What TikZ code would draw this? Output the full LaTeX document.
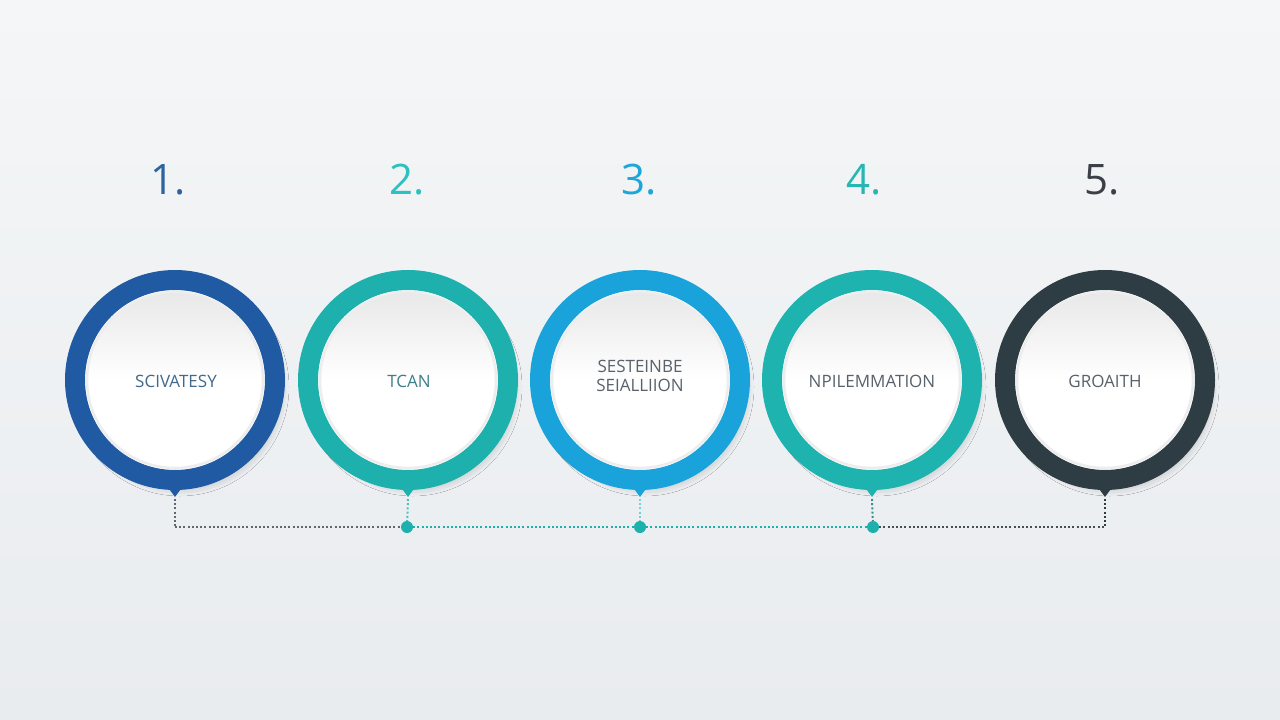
\documentclass[tikz,border=0pt]{standalone}
\usepackage{fontspec}
\setmainfont{Open Sans}
\usetikzlibrary{shadows.blur}
\definecolor{bgA}{HTML}{F4F6F7}
\definecolor{bgB}{HTML}{E9ECEF}
\definecolor{cA}{HTML}{1F5AA3}
\definecolor{cB}{HTML}{1DB0AC}
\definecolor{cC}{HTML}{1AA2DA}
\definecolor{cD}{HTML}{1EB3AE}
\definecolor{cE}{HTML}{2E3D44}
\definecolor{nA}{HTML}{2D64A0}
\definecolor{nB}{HTML}{2CC0C0}
\definecolor{nC}{HTML}{1EA6DA}
\definecolor{nD}{HTML}{26B7B2}
\definecolor{nE}{HTML}{3A4046}
\definecolor{tA}{HTML}{3F6A8E}
\definecolor{tB}{HTML}{3B7F88}
\definecolor{tC}{HTML}{59626B}
\definecolor{lineG}{HTML}{5E6670}
\tikzset{
  ring/.style={circle, minimum size=200pt, inner sep=0pt, draw=#1, line width=20pt, fill=white,
    blur shadow={shadow xshift=5pt, shadow yshift=-7pt, shadow blur radius=9pt, shadow opacity=28}},
  disc/.style={circle, minimum size=176pt, inner sep=0pt, draw=black!7, line width=2.5pt,
    top color=black!9, bottom color=white, middle color=white},
  numlabel/.style={font=\fontsize{42}{42}\selectfont, text=#1},
  intext/.style={font=\fontsize{17}{19}\selectfont, text=#1, align=center},
  dotline/.style={draw=#1, line width=2pt, dash pattern=on 2pt off 2.2pt},
  joint/.style={circle, fill=cB, minimum size=12pt, inner sep=0pt}
}
\begin{document}
\begin{tikzpicture}[x=1pt,y=-1pt]
\shade[top color=bgA, bottom color=bgB] (0,0) rectangle (1280,720);
\useasboundingbox (0,0) rectangle (1280,720);

% numbers
\node[numlabel=nA] (n1) at (168,180) {1.};
\node[numlabel=nB] (n2) at (407,180) {2.};
\node[numlabel=nC] (n3) at (639,180) {3.};
\node[numlabel=nD] (n4) at (864,180) {4.};
\node[numlabel=nE] (n5) at (1102,180) {5.};

% rings
\node[ring=cA] (c1) at (175,380) {};
\node[ring=cB] (c2) at (408,380) {};
\node[ring=cC] (c3) at (640,380) {};
\node[ring=cD] (c4) at (872,380) {};
\node[ring=cE] (c5) at (1105,380) {};

% inner discs
\node[disc] (d1) at (c1.center) {};
\node[disc] (d2) at (c2.center) {};
\node[disc] (d3) at (c3.center) {};
\node[disc] (d4) at (c4.center) {};
\node[disc] (d5) at (c5.center) {};

% texts
\node[intext=tA] (t1) at (176,381) {SCIVATESY};
\node[intext=tB] (t2) at (409,381) {TCAN};
\node[intext=tC] (t3) at (640,376) {SESTEINBE\\SEIALLIION};
\node[intext=tC] (t4) at (872,381) {NPILEMMATION};
\node[intext=tC] (t5) at (1105,381) {GROAITH};

% pointers
\foreach \i/\c in {1/cA,2/cB,3/cC,4/cD,5/cE}{
  \fill[\c] (c\i.south) ++(-8,-4) -- ++(16,0) -- ++(-8,11) -- cycle;
  \coordinate (p\i) at ([yshift=-9pt]c\i.south);
}

% junctions
\coordinate (j1) at (175,527);
\node[joint] (j2) at (407,527) {};
\node[joint] (j3) at (640,527) {};
\node[joint] (j4) at (873,527) {};
\coordinate (j5) at (1105,527);

% vertical connectors
\draw[dotline=lineG] (p1) -- (j1);
\draw[dotline=cB!80] (p2) -- (j2);
\draw[dotline=cB!60] (p3) -- (j3);
\draw[dotline=cB!50!lineG] (p4) -- (j4);
\draw[dotline=cE] (p5) -- (j5);

% horizontal connectors
\draw[dotline=lineG] (j1) -- (j2);
\draw[dotline=cB] (j2) -- (j3);
\draw[dotline=cB] (j3) -- (j4);
\draw[dotline=cE!90] (j4) -- (j5);
\end{tikzpicture}
\end{document}
